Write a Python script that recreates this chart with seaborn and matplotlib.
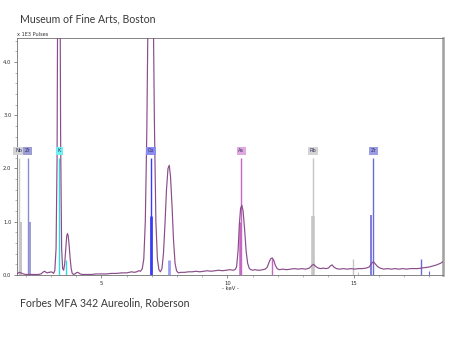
import matplotlib
matplotlib.use("Agg")
import matplotlib.pyplot as plt
import seaborn as sns
import pandas as pd
from matplotlib.ticker import MultipleLocator

# ---------------- data ----------------
energy_kev = [1.65, 1.70, 1.75, 1.80, 1.85, 1.90, 2.00, 2.10, 2.20, 2.30, 2.40, 2.50, 2.60,
              2.70, 2.75, 2.80, 2.85, 2.90, 2.95, 3.00, 3.05, 3.10, 3.15, 3.20, 3.24, 3.28,
              3.31, 3.34, 3.38, 3.42, 3.46, 3.50, 3.54, 3.58, 3.62, 3.65, 3.68, 3.72, 3.76,
              3.80, 3.84, 3.90, 3.95, 4.00, 4.05, 4.10, 4.15, 4.25, 4.40, 4.60, 4.80, 5.00,
              5.20, 5.40, 5.60, 5.80, 6.00, 6.10, 6.20, 6.30, 6.40, 6.48, 6.55, 6.62, 6.68,
              6.74, 6.80, 6.86, 6.91, 6.95, 6.99, 7.04, 7.10, 7.16, 7.22, 7.28, 7.34, 7.40,
              7.46, 7.52, 7.58, 7.64, 7.69, 7.74, 7.80, 7.86, 7.92, 7.98, 8.05, 8.15, 8.30,
              8.45, 8.60, 8.75, 8.90, 9.05, 9.20, 9.35, 9.50, 9.65, 9.80, 9.95, 10.10, 10.20,
              10.30, 10.36, 10.42, 10.47, 10.52, 10.57, 10.62, 10.68, 10.74, 10.80, 10.86,
              10.92, 11.00, 11.10, 11.20, 11.30, 11.40, 11.50, 11.58, 11.65, 11.72, 11.78,
              11.84, 11.90, 11.97, 12.05, 12.20, 12.35, 12.50, 12.65, 12.80, 12.95, 13.10,
              13.25, 13.35, 13.42, 13.50, 13.60, 13.70, 13.80, 13.90, 14.00, 14.08, 14.15,
              14.22, 14.32, 14.45, 14.60, 14.75, 14.90, 15.05, 15.20, 15.35, 15.50, 15.62,
              15.72, 15.79, 15.86, 15.95, 16.05, 16.20, 16.35, 16.50, 16.65, 16.80, 16.95,
              17.10, 17.25, 17.40, 17.55, 17.70, 17.85, 18.00, 18.15, 18.30, 18.45, 18.55]
pulses_1e3 = [0.02, 0.04, 0.05, 0.04, 0.03, 0.02, 0.01, 0.01, 0.01, 0.01, 0.01, 0.01, 0.02,
              0.06, 0.07, 0.05, 0.04, 0.05, 0.05, 0.06, 0.05, 0.03, 0.08, 0.50, 2.20, 7.50,
              10.8, 8.00, 2.60, 0.50, 0.12, 0.09, 0.20, 0.45, 0.72, 0.78, 0.74, 0.55, 0.30,
              0.12, 0.03, 0.01, 0.02, 0.04, 0.05, 0.04, 0.02, 0.01, 0.01, 0.01, 0.02, 0.02,
              0.02, 0.03, 0.03, 0.04, 0.04, 0.05, 0.06, 0.05, 0.06, 0.08, 0.07, 0.12, 0.30,
              1.00, 2.70, 5.50, 8.30, 9.10, 8.40, 5.80, 2.90, 1.00, 0.30, 0.10, 0.06, 0.12,
              0.40, 0.95, 1.60, 2.00, 2.06, 1.85, 1.30, 0.65, 0.22, 0.08, 0.04, 0.05, 0.05,
              0.06, 0.06, 0.07, 0.06, 0.07, 0.08, 0.07, 0.08, 0.09, 0.08, 0.09, 0.10, 0.09,
              0.10, 0.15, 0.45, 0.95, 1.25, 1.31, 1.20, 0.85, 0.45, 0.22, 0.13,
              0.10, 0.09, 0.10, 0.09, 0.09, 0.10, 0.11, 0.15, 0.24, 0.31, 0.32,
              0.27, 0.18, 0.12, 0.10, 0.11, 0.10, 0.11, 0.12, 0.11, 0.12, 0.11,
              0.13, 0.18, 0.20, 0.16, 0.13, 0.12, 0.13, 0.12, 0.13, 0.17, 0.19,
              0.15, 0.12, 0.11, 0.12, 0.11, 0.12, 0.11, 0.12, 0.12, 0.13, 0.15,
              0.22, 0.25, 0.21, 0.16, 0.13, 0.11, 0.12, 0.11, 0.12, 0.11, 0.12,
              0.11, 0.12, 0.12, 0.12, 0.13, 0.14, 0.15, 0.17, 0.19, 0.22, 0.25]

# element markers (label, energy of main line, colour of line, colour of label box)
element_labels = ["Nb", "Zr", "K", "Co", "As", "Rb", "Zr"]
element_energy = [1.71, 2.08, 3.33, 6.95, 10.55, 13.39, 15.78]
element_line_color = ["#c4c4c4", "#8c8cd4", "#30d8e8", "#3a3aff", "#c468c4", "#c4c4c4", "#6a6ad8"]
element_box_color = ["#d4d4d4", "#9c9cd8", "#70f0f0", "#8c8cf0", "#e0a8e0", "#d4d4d4", "#9c9ce4"]
main_line_height = 2.2
label_height = 2.33

# secondary lines (energy, height, colour)
sec_energy = [1.80, 2.16, 3.61, 6.95, 7.68, 10.49, 11.76, 13.38, 14.96, 15.18, 15.70, 17.67, 17.99]
sec_height = [1.0, 1.0, 0.28, 1.1, 0.28, 1.0, 0.3, 1.1, 0.3, 0.05, 1.12, 0.3, 0.08]
sec_color = ["#c4c4c4", "#8c8cd4", "#30d8e8", "#2020e8", "#9c9cf4", "#c468c4", "#c468c4",
             "#c8c8c8", "#c4c4c4", "#c4c4c4", "#6a6ad8", "#6a6ad8", "#6a6ad8"]
sec_width = [1.4, 1.2, 1.0, 1.8, 2.0, 1.8, 1.0, 2.6, 1.0, 0.8, 1.2, 1.0, 0.8]

x_ticks = [5, 10, 15]
y_ticks = [0, 1, 2, 3, 4]
x_range = [1.65, 18.55]
y_range = [0, 4.45]

# ---------------- plot ----------------
sns.set_theme(style="white")
plt.rcParams["font.family"] = ["Lato", "DejaVu Sans"]

fig = plt.figure(figsize=(4.5, 3.38), dpi=100)
ax = fig.add_axes([17 / 450, 1 - 275 / 338, (443 - 17) / 450, (275 - 38) / 338])

df = pd.DataFrame({"keV": energy_kev, "pulses": pulses_1e3})

# marker lines
ax.vlines(sec_energy, 0, sec_height, colors=sec_color, linewidths=sec_width, zorder=2)
ax.vlines(element_energy, 0, main_line_height, colors=element_line_color, linewidths=1.0, zorder=2)

sns.lineplot(data=df, x="keV", y="pulses", ax=ax, color="#8a4c8a", linewidth=0.85, zorder=3)

for lab, e, bc in zip(element_labels, element_energy, element_box_color):
    ax.text(e, label_height, lab, fontsize=3.6, ha="center", va="center", color="#303060",
            family="DejaVu Sans", zorder=4,
            bbox=dict(boxstyle="square,pad=0.35", fc=bc, ec="none"))

ax.set_xlim(*x_range)
ax.set_ylim(*y_range)
ax.set_xticks(x_ticks)
ax.set_xticklabels([str(t) for t in x_ticks])
ax.xaxis.set_minor_locator(MultipleLocator(1))
ax.set_yticks(y_ticks)
ax.set_yticklabels([f"{t:.1f}" for t in y_ticks])
ax.yaxis.set_minor_locator(MultipleLocator(0.2))
ax.tick_params(axis="both", which="major", labelsize=3.8, length=2.5, width=0.5,
               color="#606060", labelcolor="#303030", pad=1.5, direction="out",
               bottom=True, left=True)
ax.tick_params(axis="both", which="minor", length=1.5, width=0.4, color="#808080",
               direction="out", bottom=True, left=True)
ax.set_xlabel("- keV -", fontsize=3.8, color="#303030", labelpad=0.5, family="DejaVu Sans")
ax.set_ylabel("")
for t in ax.get_xticklabels() + ax.get_yticklabels():
    t.set_family("DejaVu Sans")

for side in ["left", "bottom", "top"]:
    ax.spines[side].set_color("#707070")
    ax.spines[side].set_linewidth(0.6)
ax.spines["right"].set_color("#a0a0a0")
ax.spines["right"].set_linewidth(1.8)

ax.text(0.0, 1.004, "x 1E3 Pulses", transform=ax.transAxes, fontsize=3.6, ha="left",
        va="bottom", color="#303030", family="DejaVu Sans")

fig.text(20 / 450, 1 - 19 / 338, "Museum of Fine Arts, Boston", fontsize=7.6,
         ha="left", va="center", color="#383838")
fig.text(20 / 450, 1 - 303 / 338, "Forbes MFA 342 Aureolin, Roberson", fontsize=7.6,
         ha="left", va="center", color="#383838")

fig.savefig("out.png", dpi=100)
